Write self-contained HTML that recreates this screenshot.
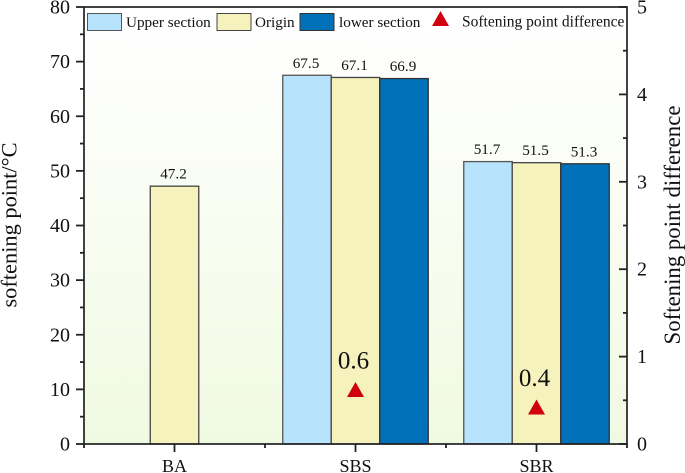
<!DOCTYPE html>
<html>
<head>
<meta charset="utf-8">
<style>
html,body{margin:0;padding:0;background:#fff;width:685px;height:473px;overflow:hidden}
svg{display:block}
text{font-family:"Liberation Serif",serif;fill:#111}
</style>
</head>
<body>
<svg id="chart" width="685" height="473" viewBox="0 0 685 473" xmlns="http://www.w3.org/2000/svg">
<defs>
<linearGradient id="bg" x1="0" y1="0" x2="0" y2="1">
<stop offset="0" stop-color="#ffffff"/>
<stop offset="0.2" stop-color="#fdfefb"/>
<stop offset="0.6" stop-color="#f7fcee"/>
<stop offset="1" stop-color="#f0fae2"/>
</linearGradient>
</defs>
<rect x="84" y="7" width="543" height="437" fill="url(#bg)"/>
<g id="bars"></g>
<g id="axes"></g>
<g id="points"></g>
<g>
<rect x="87.5" y="13.5" width="34" height="17" fill="#b8e3fd" stroke="#555" stroke-width="1"/>
<text x="126" y="27" font-size="15.2">Upper section</text>
<rect x="217" y="13.5" width="34" height="17" fill="#f5f2bd" stroke="#444" stroke-width="1"/>
<text x="255" y="27" font-size="15.2">Origin</text>
<rect x="300" y="13.5" width="34" height="17" fill="#0070b8" stroke="#333" stroke-width="1"/>
<text x="339" y="27" font-size="15.2">lower section</text>
<polygon points="440.5,11 449,26 432,26" fill="#d00010"/>
<text x="462" y="26.5" font-size="15.5">Softening point difference</text>
</g>
<text transform="translate(16.5,225) rotate(-90)" text-anchor="middle" font-size="22.4">softening point/°C</text>
<text transform="translate(680,225) rotate(-90)" text-anchor="middle" font-size="22.8">Softening point difference</text>
</svg>
<script>
const categories = ["BA", "SBS", "SBR"];
const upperSection = [null, 67.5, 51.7];
const origin = [47.2, 67.1, 51.5];
const lowerSection = [null, 66.9, 51.3];
const difference = [null, 0.6, 0.4];
const leftTicks = [0, 10, 20, 30, 40, 50, 60, 70, 80];
const rightTicks = [0, 1, 2, 3, 4, 5];

const NS = "http://www.w3.org/2000/svg";
const plot = {l: 84, r: 627, t: 7, b: 444};
const yLeft = v => plot.b - (v / 80) * (plot.b - plot.t);
const yRight = v => plot.b - (v / 5) * (plot.b - plot.t);
const step = (plot.r - plot.l) / categories.length;
const xCat = i => plot.l + step * (i + 0.5);
const barW = 48.5;

function mk(tag, attrs, parent, txt) {
  const el = document.createElementNS(NS, tag);
  for (const k in attrs) el.setAttribute(k, attrs[k]);
  if (txt !== undefined) el.textContent = txt;
  parent.appendChild(el);
  return el;
}

const barsG = document.getElementById("bars");
const axesG = document.getElementById("axes");
const pointsG = document.getElementById("points");

function drawSeries(values, offset, fill, stroke, slug) {
  values.forEach((v, i) => {
    if (v === null) return;
    const x = xCat(i) + offset * barW - barW / 2;
    const bar = mk("rect", {x: x, y: yLeft(v), width: barW, height: plot.b - yLeft(v), fill: fill, stroke: stroke, "stroke-width": 1.3}, barsG);
    
    
    const label = mk("text", {x: x + barW / 2 - 1, y: yLeft(v) - 7.5, "text-anchor": "middle", "font-size": 15.2}, barsG, v.toFixed(1));
    
    
  });
}
drawSeries(upperSection, -1, "#b8e3fd", "#555", "upper-section");
drawSeries(origin, 0, "#f5f2bd", "#444", "origin");
drawSeries(lowerSection, 1, "#0070b8", "#333", "lower-section");

difference.forEach((v, i) => {
  if (v === null) return;
  const x = xCat(i), y = yRight(v);
  const tri = mk("polygon", {points: (x) + "," + (y - 9.5) + " " + (x + 8.5) + "," + (y + 5.5) + " " + (x - 8.5) + "," + (y + 5.5), fill: "#d00010"}, pointsG);
  
  
  const lab = mk("text", {x: x - 2, y: y - 23, "text-anchor": "middle", "font-size": 25}, pointsG, v.toFixed(1));
  
  
});

const border = mk("rect", {x: plot.l, y: plot.t, width: plot.r - plot.l, height: plot.b - plot.t, fill: "none", stroke: "#222", "stroke-width": 1.7}, axesG);


const tickAttrs = {stroke: "#222", "stroke-width": 1.8};

leftTicks.forEach((v, i) => {
  const y = yLeft(v);
  const t = mk("line", {x1: plot.l - 8, x2: plot.l, y1: y, y2: y, ...tickAttrs}, axesG);
  
  
  const lab = mk("text", {x: plot.l - 14, y: y + 6.5, "text-anchor": "end", "font-size": 20}, axesG, v);
  
  
  if (i < leftTicks.length - 1) {
    const my = yLeft((v + leftTicks[i + 1]) / 2);
    const m = mk("line", {x1: plot.l - 4, x2: plot.l, y1: my, y2: my, ...tickAttrs}, axesG);
    
    
  }
});

rightTicks.forEach((v, i) => {
  const y = yRight(v);
  const t = mk("line", {x1: plot.r - 8, x2: plot.r, y1: y, y2: y, ...tickAttrs}, axesG);
  
  
  const lab = mk("text", {x: plot.r + 10, y: y + 6.5, "font-size": 20}, axesG, v);
  
  
  if (i < rightTicks.length - 1) {
    const my = yRight((v + rightTicks[i + 1]) / 2);
    const m = mk("line", {x1: plot.r - 4, x2: plot.r, y1: my, y2: my, ...tickAttrs}, axesG);
    
    
  }
});

categories.forEach((c, i) => {
  const x = xCat(i);
  const t = mk("line", {x1: x, x2: x, y1: plot.b, y2: plot.b + 8, ...tickAttrs}, axesG);
  
  
  const lab = mk("text", {x: x, y: plot.b + 28, "text-anchor": "middle", "font-size": 18}, axesG, c);
  
  
});
for (let i = 0; i <= categories.length; i++) {
  const x = plot.l + step * i;
  const m = mk("line", {x1: x, x2: x, y1: plot.b, y2: plot.b + 4, ...tickAttrs}, axesG);
  
  
}
</script>
</body>
</html>
